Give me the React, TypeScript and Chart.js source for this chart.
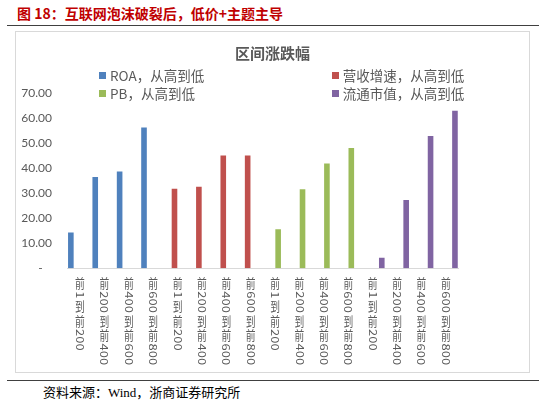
import React, { useEffect, useRef } from "react";
import { Chart, registerables } from "chart.js";

Chart.register(...registerables);

const categories = [
  "前1到前200", "前200到前400", "前400到前600", "前600到前800",
  "前1到前200", "前200到前400", "前400到前600", "前600到前800",
  "前1到前200", "前200到前400", "前400到前600", "前600到前800",
  "前1到前200", "前200到前400", "前400到前600", "前600到前800",
];
const seriesNames = ["ROA，从高到低", "营收增速，从高到低", "PB，从高到低", "流通市值，从高到低"];
const seriesColors = ["#4F81BD", "#C0504D", "#9BBB59", "#8064A2"];
const roaValues = [14.3, 36.4, 38.6, 56.1];
const revenueValues = [31.7, 32.5, 45.0, 45.0];
const pbValues = [15.6, 31.5, 41.8, 48.0];
const floatCapValues = [4.2, 27.2, 52.7, 62.8];
const yMin = 0;
const yMax = 70;
const yStep = 10;

const figureTitle = "图 18：互联网泡沫破裂后，低价+主题主导";
const chartTitle = "区间涨跌幅";
const sourceText = "资料来源：Wind，浙商证券研究所";

const CJK = '"Noto Sans CJK SC", "Noto Sans", sans-serif';
const GRAY = "#595959";

const xLabelPlugin = {
  id: "verticalXLabels",
  afterDraw(chart: any) {
    const xs = chart.scales.x;
    const ctx = chart.ctx;
    const fontSize = 13;
    ctx.save();
    ctx.fillStyle = GRAY;
    ctx.font = `${fontSize}px ${CJK}`;
    categories.forEach((label, i) => {
      const x = xs.getPixelForTick(i);
      let y = chart.chartArea.bottom + 8.5;
      const segs: string[] = label.match(/[0-9A-Za-z]+|[^0-9A-Za-z]/g) || [];
      segs.forEach((seg) => {
        if (/^[0-9A-Za-z]+$/.test(seg)) {
          const w = ctx.measureText(seg).width;
          ctx.save();
          ctx.translate(x, y);
          ctx.scale(0.8, 1);
          ctx.rotate(Math.PI / 2);
          ctx.textAlign = "left";
          ctx.textBaseline = "middle";
          ctx.fillText(seg, 0, 0);
          ctx.restore();
          y += w + 1.5;
        } else {
          ctx.save();
          ctx.translate(x, y);
          ctx.scale(0.75, 1);
          ctx.textAlign = "center";
          ctx.textBaseline = "top";
          ctx.fillText(seg, 0, 0);
          ctx.restore();
          y += fontSize + 1.5;
        }
      });
    });
    ctx.restore();
  },
};

export default function App() {
  const canvasRef = useRef<HTMLCanvasElement | null>(null);

  useEffect(() => {
    if (!canvasRef.current) return;
    const groups = [roaValues, revenueValues, pbValues, floatCapValues];
    const datasets = groups.map((vals, k) => ({
      label: seriesNames[k],
      data: categories.map((_, i) => (Math.floor(i / 4) === k ? vals[i % 4] : null)),
      backgroundColor: seriesColors[k],
      borderWidth: 0,
      categoryPercentage: 1,
      barPercentage: 0.92,
    }));
    const chart = new Chart(canvasRef.current, {
      type: "bar",
      data: { labels: categories, datasets },
      options: {
        animation: false,
        responsive: false,
        maintainAspectRatio: false,
        layout: { padding: { left: 0, right: 72, top: 61.7, bottom: 0 } },
        plugins: {
          legend: { display: false },
          title: { display: false },
          tooltip: { enabled: false },
        },
        scales: {
          x: {
            grid: { display: false, drawTicks: false },
            border: { display: true, color: "#D9D9D9", width: 1 },
            ticks: { display: false },
            afterFit: (scale: any) => {
              scale.height = 104.7;
            },
          },
          y: {
            min: yMin,
            max: yMax,
            grid: { display: false, drawTicks: false },
            border: { display: false },
            ticks: {
              stepSize: yStep,
              padding: 15.8,
              color: GRAY,
              font: { family: 'Lato, "Liberation Sans", sans-serif', size: 12 },
              callback: (v: any) => (Number(v) === 0 ? "-   " : Number(v).toFixed(2)),
            },
            afterFit: (scale: any) => {
              scale.width = 52.8;
            },
          },
        },
      } as any,
      plugins: [xLabelPlugin],
    });
    return () => chart.destroy();
  }, []);

  const legendPos = [
    { left: 99, top: 75 },
    { left: 331.7, top: 75 },
    { left: 99, top: 93 },
    { left: 331.7, top: 93 },
  ];

  return (
    <div style={{ position: "absolute", left: 0, top: 0, width: 550, height: 407, background: "#fff", overflow: "hidden" }}>
      <div
        style={{
          position: "absolute", left: 17, top: 3, height: 20, lineHeight: "20px",
          fontFamily: CJK, fontWeight: "bold", fontSize: 14, color: "#C00000", whiteSpace: "nowrap",
        }}
      >
        {figureTitle}
      </div>
      <div style={{ position: "absolute", left: 7, top: 24.5, width: 532, borderTop: "1.5px solid #404040" }} />
      <div
        style={{
          position: "absolute", left: 15, top: 31, width: 515, height: 342,
          boxSizing: "border-box", border: "1px solid #D9D9D9",
        }}
      />
      <canvas
        ref={canvasRef}
        width={515}
        height={342}
        style={{ position: "absolute", left: 15, top: 31, width: 515, height: 342 }}
      />
      <div
        style={{
          position: "absolute", left: 15, width: 515, top: 41.7, height: 22, lineHeight: "22px",
          textAlign: "center", fontFamily: CJK, fontWeight: "bold", fontSize: 15, color: GRAY,
        }}
      >
        {chartTitle}
      </div>
      {[0, 2, 1, 3].map((k) => {
        const p = legendPos[k === 0 ? 0 : k === 1 ? 1 : k === 2 ? 2 : 3];
        return (
          <div
            key={k}
            style={{
              position: "absolute", left: p.left, top: p.top - 10, height: 20,
              display: "flex", alignItems: "center", whiteSpace: "nowrap",
              fontFamily: CJK, fontSize: 13.5, color: GRAY,
            }}
          >
            <span style={{ display: "inline-block", width: 7, height: 7, background: seriesColors[k], marginRight: 4 }} />
            <span>{seriesNames[k]}</span>
          </div>
        );
      })}
      <div style={{ position: "absolute", left: 7, top: 380, width: 532, borderTop: "1.5px solid #404040" }} />
      <div
        style={{
          position: "absolute", left: 43, top: 383, height: 20, lineHeight: "20px",
          fontFamily: '"Liberation Serif", "Noto Sans CJK SC", serif', fontSize: 13, color: "#000", whiteSpace: "nowrap",
        }}
      >
        {sourceText}
      </div>
    </div>
  );
}
